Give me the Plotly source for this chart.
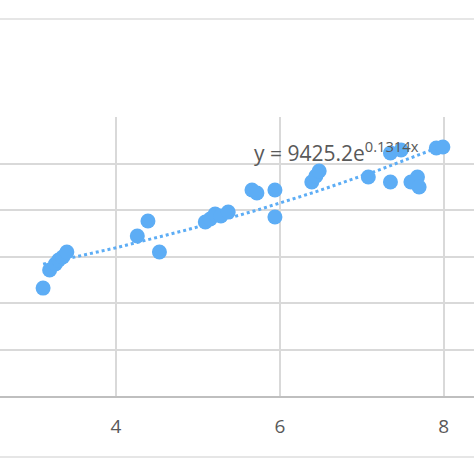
import numpy as np
import plotly.graph_objects as go

# scatter points
X_VALUES = [3.11, 3.19, 3.26, 3.30, 3.35, 3.40, 4.26, 4.39, 4.53,
            5.09, 5.15, 5.21, 5.28, 5.37, 5.66, 5.72, 5.94, 5.94,
            6.39, 6.44, 6.48, 7.08, 7.35, 7.48, 7.35, 7.60, 7.68,
            7.70, 7.91, 7.99]
Y_VALUES = [11600, 13550, 14200, 14620, 14950, 15480, 17200, 18820, 15480,
            18710, 19030, 19570, 19350, 19790, 22150, 21830, 22150, 19250,
            23010, 23660, 24190, 23550, 26130, 26450, 23010, 23010, 23550,
            22470, 26670, 26770]

# exponential trendline y = A * exp(B * x)
TREND_A = 9425.2
TREND_B = 0.1314
TREND_LABEL = "y = 9425.2e<sup>0.1314x</sup>"

X_TICKS = [4, 6, 8]

BLUE = "#5DADF5"
GRID = "#D9D9D9"
TEXT = "#595959"

trend_x = np.linspace(min(X_VALUES), max(X_VALUES), 60)
trend_y = TREND_A * np.exp(TREND_B * trend_x)

fig = go.Figure()

fig.add_trace(
    go.Scatter(
        x=trend_x,
        y=trend_y,
        mode="lines",
        line=dict(color=BLUE, width=3, dash="dot"),
        hoverinfo="skip",
        showlegend=False,
    )
)

fig.add_trace(
    go.Scatter(
        x=X_VALUES,
        y=Y_VALUES,
        mode="markers",
        marker=dict(size=15, color=BLUE),
        showlegend=False,
    )
)

fig.add_annotation(
    x=5.66,
    y=26250,
    xref="x",
    yref="y",
    text=TREND_LABEL,
    showarrow=False,
    xanchor="left",
    yanchor="middle",
    font=dict(family="Open Sans", size=21, color=TEXT),
)

# light frame lines above and below the plot area
for yp in (1.351, -0.2186):
    fig.add_shape(
        type="line",
        xref="paper",
        yref="paper",
        x0=0,
        x1=1,
        y0=yp,
        y1=yp,
        line=dict(color="#E6E6E6", width=2),
    )

fig.update_layout(
    width=474,
    height=474,
    margin=dict(l=0, r=0, t=117, b=78),
    paper_bgcolor="white",
    plot_bgcolor="white",
    font=dict(family="Open Sans", color=TEXT),
)

fig.update_xaxes(
    range=[2.584, 8.37],
    tickvals=X_TICKS,
    showgrid=True,
    gridcolor=GRID,
    gridwidth=1.5,
    zeroline=False,
    showline=True,
    linecolor="#BFBFBF",
    linewidth=2,
    tickfont=dict(size=19, color=TEXT),
    ticklabelstandoff=12,
)

fig.update_yaxes(
    range=[0, 30000],
    dtick=5000,
    showgrid=True,
    gridcolor=GRID,
    gridwidth=1.5,
    zeroline=False,
    showticklabels=False,
)

fig.write_html(
    "out.html",
    config={"displayModeBar": False},
    post_script="document.body.style.margin = '0px';",
)
